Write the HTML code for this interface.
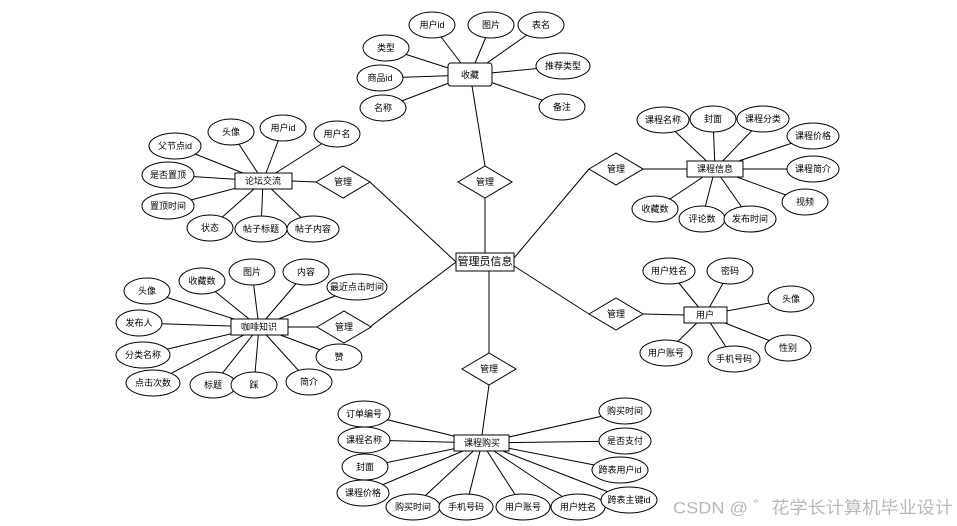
<!DOCTYPE html>
<html><head><meta charset="utf-8"><style>
html,body{margin:0;padding:0;background:#fff;}
svg{display:block;font-family:"Liberation Sans","Noto Sans CJK SC",sans-serif;}
text{font-size:9px;fill:#000;text-anchor:middle;dominant-baseline:central;}
line{stroke:#000;stroke-width:1;}
ellipse,rect,polygon{fill:#fff;stroke:#000;stroke-width:1;}
</style></head><body>
<svg width="957" height="526" viewBox="0 0 957 526">
<line x1="485" y1="253" x2="485" y2="198"/><line x1="485" y1="166" x2="472" y2="86"/>
<line x1="370" y1="182" x2="456" y2="262"/><line x1="292" y1="181" x2="316" y2="182"/>
<line x1="370" y1="327" x2="456" y2="262"/><line x1="288" y1="327" x2="317" y2="327"/>
<line x1="489" y1="271" x2="489" y2="353"/><line x1="489" y1="385" x2="482" y2="435"/>
<line x1="589" y1="169" x2="514" y2="258"/><line x1="643" y1="169" x2="687" y2="169"/>
<line x1="589" y1="314" x2="514" y2="266"/><line x1="643" y1="314" x2="684" y2="315"/>
<g>
<line x1="470" y1="75" x2="432" y2="25"/><line x1="470" y1="75" x2="491" y2="25"/><line x1="470" y1="75" x2="541" y2="25"/><line x1="470" y1="75" x2="386" y2="48"/><line x1="470" y1="75" x2="380" y2="78"/><line x1="470" y1="75" x2="383" y2="108"/><line x1="470" y1="75" x2="563" y2="66"/><line x1="470" y1="75" x2="562" y2="107"/>
<line x1="263" y1="181" x2="231" y2="132"/><line x1="263" y1="181" x2="283" y2="128"/><line x1="263" y1="181" x2="337" y2="134"/><line x1="263" y1="181" x2="175" y2="146"/><line x1="263" y1="181" x2="168" y2="175"/><line x1="263" y1="181" x2="168" y2="206"/><line x1="263" y1="181" x2="210" y2="228"/><line x1="263" y1="181" x2="261" y2="229"/><line x1="263" y1="181" x2="313" y2="229"/>
<line x1="259" y1="327" x2="147" y2="291"/><line x1="259" y1="327" x2="202" y2="281"/><line x1="259" y1="327" x2="252" y2="272"/><line x1="259" y1="327" x2="306" y2="272"/><line x1="259" y1="327" x2="357" y2="287"/><line x1="259" y1="327" x2="139" y2="323"/><line x1="259" y1="327" x2="143" y2="355"/><line x1="259" y1="327" x2="153" y2="383"/><line x1="259" y1="327" x2="213" y2="385"/><line x1="259" y1="327" x2="254" y2="385"/><line x1="259" y1="327" x2="309" y2="382"/><line x1="259" y1="327" x2="339" y2="357"/>
<line x1="482" y1="443" x2="364" y2="414"/><line x1="482" y1="443" x2="364" y2="440"/><line x1="482" y1="443" x2="365" y2="467"/><line x1="482" y1="443" x2="363" y2="493"/><line x1="482" y1="443" x2="413" y2="507"/><line x1="482" y1="443" x2="466" y2="507"/><line x1="482" y1="443" x2="523" y2="507"/><line x1="482" y1="443" x2="578" y2="507"/><line x1="482" y1="443" x2="629" y2="500"/><line x1="482" y1="443" x2="620" y2="470"/><line x1="482" y1="443" x2="625" y2="441"/><line x1="482" y1="443" x2="625" y2="411"/>
<line x1="715" y1="169" x2="663" y2="120"/><line x1="715" y1="169" x2="713" y2="119"/><line x1="715" y1="169" x2="763" y2="119"/><line x1="715" y1="169" x2="813" y2="136"/><line x1="715" y1="169" x2="813" y2="169"/><line x1="715" y1="169" x2="805" y2="202"/><line x1="715" y1="169" x2="655" y2="209"/><line x1="715" y1="169" x2="702" y2="219"/><line x1="715" y1="169" x2="750" y2="219"/>
<line x1="705" y1="315" x2="669" y2="271"/><line x1="705" y1="315" x2="730" y2="271"/><line x1="705" y1="315" x2="791" y2="299"/><line x1="705" y1="315" x2="788" y2="348"/><line x1="705" y1="315" x2="666" y2="353"/><line x1="705" y1="315" x2="734" y2="359"/>
</g>
<polygon points="458,182 485,166 512,182 485,198"/><text x="485" y="182">管理</text>
<polygon points="316,182 343,166 370,182 343,198"/><text x="343" y="182">管理</text>
<polygon points="317,327 344,311 371,327 344,343"/><text x="344" y="327">管理</text>
<polygon points="462,369 489,353 516,369 489,385"/><text x="489" y="369">管理</text>
<polygon points="589,169 616,153 643,169 616,185"/><text x="616" y="169">管理</text>
<polygon points="589,314 616,298 643,314 616,330"/><text x="616" y="314">管理</text>
<rect x="456" y="253" width="58" height="18"/><text x="485" y="262" style="font-size:11px">管理员信息</text>
<rect x="448" y="63" width="44" height="23" rx="3"/><text x="470" y="75">收藏</text>
<rect x="235" y="173" width="57" height="16"/><text x="263" y="181">论坛交流</text>
<rect x="231" y="319" width="57" height="16"/><text x="259" y="327">咖啡知识</text>
<rect x="454" y="435" width="55" height="16"/><text x="482" y="443">课程购买</text>
<rect x="687" y="161" width="56" height="16"/><text x="715" y="169">课程信息</text>
<rect x="684" y="307" width="43" height="16"/><text x="705" y="315">用户</text>
<g>
<ellipse cx="432" cy="25" rx="23" ry="13"/><text x="432" y="25">用户id</text>
<ellipse cx="491" cy="25" rx="23" ry="13"/><text x="491" y="25">图片</text>
<ellipse cx="541" cy="25" rx="23" ry="13"/><text x="541" y="25">表名</text>
<ellipse cx="386" cy="48" rx="23" ry="13"/><text x="386" y="48">类型</text>
<ellipse cx="380" cy="78" rx="23" ry="13"/><text x="380" y="78">商品id</text>
<ellipse cx="383" cy="108" rx="23" ry="13"/><text x="383" y="108">名称</text>
<ellipse cx="563" cy="66" rx="27" ry="13"/><text x="563" y="66">推荐类型</text>
<ellipse cx="562" cy="107" rx="23" ry="13"/><text x="562" y="107">备注</text>
<ellipse cx="231" cy="132" rx="23" ry="13"/><text x="231" y="132">头像</text>
<ellipse cx="283" cy="128" rx="23" ry="13"/><text x="283" y="128">用户id</text>
<ellipse cx="337" cy="134" rx="23" ry="13"/><text x="337" y="134">用户名</text>
<ellipse cx="175" cy="146" rx="26" ry="13"/><text x="175" y="146">父节点id</text>
<ellipse cx="168" cy="175" rx="26" ry="13"/><text x="168" y="175">是否置顶</text>
<ellipse cx="168" cy="206" rx="26" ry="13"/><text x="168" y="206">置顶时间</text>
<ellipse cx="210" cy="228" rx="23" ry="13"/><text x="210" y="228">状态</text>
<ellipse cx="261" cy="229" rx="26" ry="13"/><text x="261" y="229">帖子标题</text>
<ellipse cx="313" cy="229" rx="26" ry="13"/><text x="313" y="229">帖子内容</text>
<ellipse cx="147" cy="291" rx="23" ry="13"/><text x="147" y="291">头像</text>
<ellipse cx="202" cy="281" rx="23" ry="13"/><text x="202" y="281">收藏数</text>
<ellipse cx="252" cy="272" rx="23" ry="13"/><text x="252" y="272">图片</text>
<ellipse cx="306" cy="272" rx="23" ry="13"/><text x="306" y="272">内容</text>
<ellipse cx="357" cy="287" rx="30" ry="13"/><text x="357" y="287">最近点击时间</text>
<ellipse cx="139" cy="323" rx="23" ry="13"/><text x="139" y="323">发布人</text>
<ellipse cx="143" cy="355" rx="27" ry="13"/><text x="143" y="355">分类名称</text>
<ellipse cx="153" cy="383" rx="27" ry="13"/><text x="153" y="383">点击次数</text>
<ellipse cx="213" cy="385" rx="23" ry="13"/><text x="213" y="385">标题</text>
<ellipse cx="254" cy="385" rx="23" ry="13"/><text x="254" y="385">踩</text>
<ellipse cx="309" cy="382" rx="23" ry="13"/><text x="309" y="382">简介</text>
<ellipse cx="339" cy="357" rx="23" ry="13"/><text x="339" y="357">赞</text>
<ellipse cx="364" cy="414" rx="26" ry="13"/><text x="364" y="414">订单编号</text>
<ellipse cx="364" cy="440" rx="26" ry="13"/><text x="364" y="440">课程名称</text>
<ellipse cx="365" cy="467" rx="23" ry="13"/><text x="365" y="467">封面</text>
<ellipse cx="363" cy="493" rx="26" ry="13"/><text x="363" y="493">课程价格</text>
<ellipse cx="413" cy="507" rx="27" ry="13"/><text x="413" y="507">购买时间</text>
<ellipse cx="466" cy="507" rx="27" ry="13"/><text x="466" y="507">手机号码</text>
<ellipse cx="523" cy="507" rx="27" ry="13"/><text x="523" y="507">用户账号</text>
<ellipse cx="578" cy="507" rx="27" ry="13"/><text x="578" y="507">用户姓名</text>
<ellipse cx="629" cy="500" rx="28" ry="13"/><text x="629" y="500">跨表主键id</text>
<ellipse cx="620" cy="470" rx="28" ry="13"/><text x="620" y="470">跨表用户id</text>
<ellipse cx="625" cy="441" rx="26" ry="13"/><text x="625" y="441">是否支付</text>
<ellipse cx="625" cy="411" rx="26" ry="13"/><text x="625" y="411">购买时间</text>
<ellipse cx="663" cy="120" rx="26" ry="13"/><text x="663" y="120">课程名称</text>
<ellipse cx="713" cy="119" rx="23" ry="13"/><text x="713" y="119">封面</text>
<ellipse cx="763" cy="119" rx="26" ry="13"/><text x="763" y="119">课程分类</text>
<ellipse cx="813" cy="136" rx="26" ry="13"/><text x="813" y="136">课程价格</text>
<ellipse cx="813" cy="169" rx="26" ry="13"/><text x="813" y="169">课程简介</text>
<ellipse cx="805" cy="202" rx="23" ry="13"/><text x="805" y="202">视频</text>
<ellipse cx="655" cy="209" rx="23" ry="13"/><text x="655" y="209">收藏数</text>
<ellipse cx="702" cy="219" rx="23" ry="13"/><text x="702" y="219">评论数</text>
<ellipse cx="750" cy="219" rx="26" ry="13"/><text x="750" y="219">发布时间</text>
<ellipse cx="669" cy="271" rx="26" ry="13"/><text x="669" y="271">用户姓名</text>
<ellipse cx="730" cy="271" rx="23" ry="13"/><text x="730" y="271">密码</text>
<ellipse cx="791" cy="299" rx="23" ry="13"/><text x="791" y="299">头像</text>
<ellipse cx="788" cy="348" rx="23" ry="13"/><text x="788" y="348">性别</text>
<ellipse cx="666" cy="353" rx="26" ry="13"/><text x="666" y="353">用户账号</text>
<ellipse cx="734" cy="359" rx="26" ry="13"/><text x="734" y="359">手机号码</text>
</g>
<text x="673" y="508" textLength="280" lengthAdjust="spacingAndGlyphs" style="font-size:17px;fill:#b8b8b8;text-anchor:start">CSDN @ ゛花学长计算机毕业设计</text>
</svg>
</body></html>
